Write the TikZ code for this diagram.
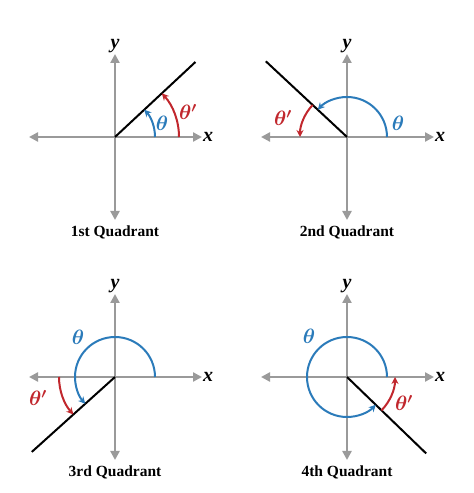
\documentclass[tikz,border=0pt]{standalone}
\usepackage{amsmath}
\usepackage{bm}
\usepackage{fontspec}
\setmainfont{Liberation Serif}
\usetikzlibrary{arrows.meta}
\definecolor{axisgray}{HTML}{9A9A9A}
\definecolor{thetablue}{HTML}{2B7BBA}
\definecolor{primered}{HTML}{C1272D}

\begin{document}
\begin{tikzpicture}[
      x=1pt, y=1pt,
      axis/.style={
        draw=axisgray,
        line width=2.4pt,
        {Triangle[length=9pt,width=9pt]}-{Triangle[length=9pt,width=9pt]}
      },
      side/.style={draw=black, line width=2pt},
      bluearc/.style={draw=thetablue, line width=2pt, -{Stealth[length=7pt,width=7pt]}},
      redarc/.style={draw=primered, line width=2pt, -{Stealth[length=7pt,width=7pt]}},
      axlabel/.style={font=\fontsize{20}{24}\selectfont\bfseries\itshape, inner sep=1pt},
      anglabel/.style={font=\fontsize{20}{24}\selectfont, inner sep=0pt},
      title/.style={font=\fontsize{15.5}{18}\selectfont\bfseries}
    ]
    \useasboundingbox (0,0) rectangle (474,493);

    % 1st Quadrant
    \begin{scope}[shift={(115,356)}]
      \coordinate (o1) at (0,0);
      \coordinate (o1w) at (-86,0);
      \coordinate (o1e) at (87,0);
      \coordinate (o1n) at (0,83);
      \coordinate (o1s) at (0,-83);
      \coordinate (o1t) at (43:110);
      \draw[axis] (o1w) -- (o1e);
      \draw[axis] (o1s) -- (o1n);
      \draw[side] (o1) -- (o1t);
      \draw[bluearc] (40,0) arc[start angle=0, end angle=43, radius=40];
      \draw[redarc] (64,0) arc[start angle=0, end angle=43, radius=64];
      \node[axlabel, right] (x1) at (o1e) {x};
      \node[axlabel, above] (y1) at (o1n) {y};
      \node[anglabel, text=thetablue] (th1) at (47,14) {$\bm{\theta}$};
      \node[anglabel, text=primered] (thp1) at (73,25) {$\bm{\theta'}$};
      \node[title] (q1) at (0,-95) {1st Quadrant};
    \end{scope}

    % 2nd Quadrant
    \begin{scope}[shift={(347,356)}]
      \coordinate (o2) at (0,0);
      \coordinate (o2w) at (-86,0);
      \coordinate (o2e) at (87,0);
      \coordinate (o2n) at (0,83);
      \coordinate (o2s) at (0,-83);
      \coordinate (o2t) at (137:111);
      \draw[axis] (o2w) -- (o2e);
      \draw[axis] (o2s) -- (o2n);
      \draw[side] (o2) -- (o2t);
      \draw[bluearc] (40,0) arc[start angle=0, end angle=137, radius=40];
      \draw[redarc] (137:47) arc[start angle=137, end angle=180, radius=47];
      \node[axlabel, right] (x2) at (o2e) {x};
      \node[axlabel, above] (y2) at (o2n) {y};
      \node[anglabel, text=thetablue] (th2) at (51,14) {$\bm{\theta}$};
      \node[anglabel, text=primered] (thp2) at (-64,19) {$\bm{\theta'}$};
      \node[title] (q2) at (0,-95) {2nd Quadrant};
    \end{scope}

    % 3rd Quadrant
    \begin{scope}[shift={(115,116)}]
      \coordinate (o3) at (0,0);
      \coordinate (o3w) at (-86,0);
      \coordinate (o3e) at (87,0);
      \coordinate (o3n) at (0,83);
      \coordinate (o3s) at (0,-83);
      \coordinate (o3t) at (222:112);
      \draw[axis] (o3w) -- (o3e);
      \draw[axis] (o3s) -- (o3n);
      \draw[side] (o3) -- (o3t);
      \draw[bluearc] (40,0) arc[start angle=0, end angle=222, radius=40];
      \draw[redarc] (180:56) arc[start angle=180, end angle=222, radius=56];
      \node[axlabel, right] (x3) at (o3e) {x};
      \node[axlabel, above] (y3) at (o3n) {y};
      \node[anglabel, text=thetablue] (th3) at (-37,40) {$\bm{\theta}$};
      \node[anglabel, text=primered] (thp3) at (-77,-21) {$\bm{\theta'}$};
      \node[title] (q3) at (0,-95) {3rd Quadrant};
    \end{scope}

    % 4th Quadrant
    \begin{scope}[shift={(347,116)}]
      \coordinate (o4) at (0,0);
      \coordinate (o4w) at (-86,0);
      \coordinate (o4e) at (87,0);
      \coordinate (o4n) at (0,83);
      \coordinate (o4s) at (0,-83);
      \coordinate (o4t) at (316:110);
      \draw[axis] (o4w) -- (o4e);
      \draw[axis] (o4s) -- (o4n);
      \draw[side] (o4) -- (o4t);
      \draw[bluearc] (40,0) arc[start angle=0, end angle=316, radius=40];
      \draw[redarc] (316:48) arc[start angle=316, end angle=360, radius=48];
      \node[axlabel, right] (x4) at (o4e) {x};
      \node[axlabel, above] (y4) at (o4n) {y};
      \node[anglabel, text=thetablue] (th4) at (-38,41) {$\bm{\theta}$};
      \node[anglabel, text=primered] (thp4) at (57,-26) {$\bm{\theta'}$};
      \node[title] (q4) at (0,-95) {4th Quadrant};
    \end{scope}
  \end{tikzpicture}
\end{document}
